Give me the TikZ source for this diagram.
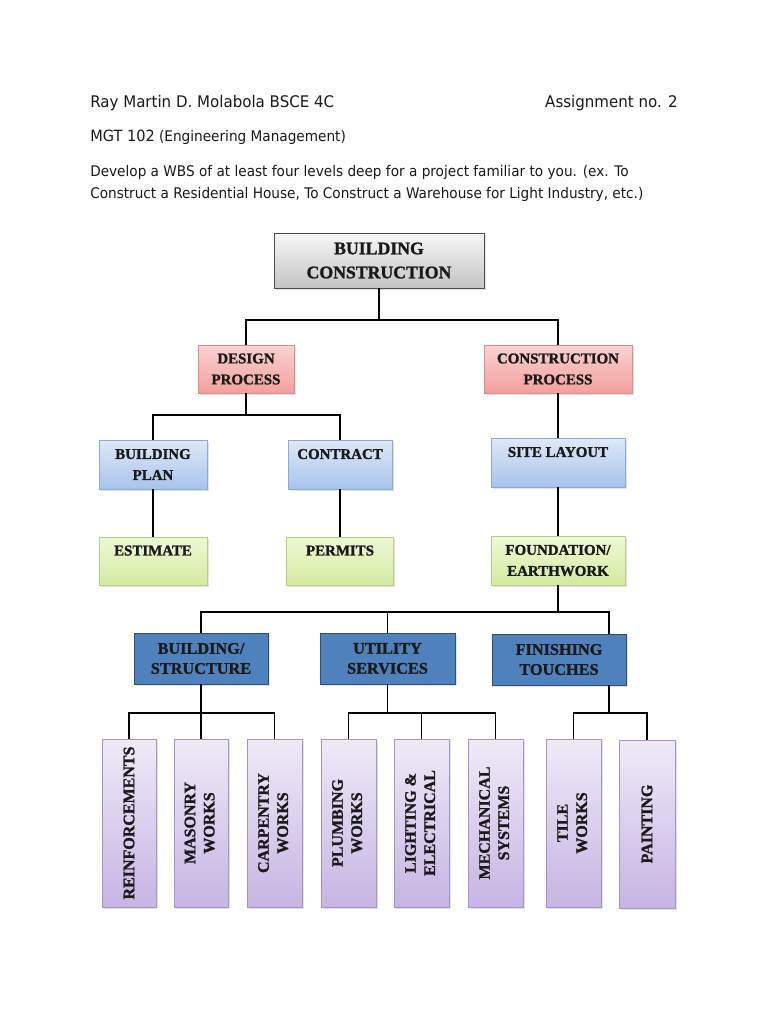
\documentclass[tikz,border=0pt]{standalone}
\usepackage{fontspec}
\usetikzlibrary{shadows}
\newfontfamily\hdrfont{DejaVu Sans}[FakeStretch=0.93]
\newfontfamily\hdrbigfont{DejaVu Sans}[FakeStretch=0.94]
\newfontfamily\tnr{Liberation Serif}[BoldFeatures={FakeBold=1.3}]
\definecolor{grayT}{HTML}{F7F7F7}\definecolor{grayB}{HTML}{C4C4C4}\definecolor{grayD}{HTML}{4D4D4D}
\definecolor{redT}{HTML}{FAD2D1}\definecolor{redB}{HTML}{F2A09E}\definecolor{redD}{HTML}{D98F8D}
\definecolor{bluT}{HTML}{DFE9F7}\definecolor{bluB}{HTML}{A8C3EC}\definecolor{bluD}{HTML}{8AAAD8}
\definecolor{grnT}{HTML}{EFF8D6}\definecolor{grnB}{HTML}{D3EBA0}\definecolor{grnD}{HTML}{B5CF86}
\definecolor{purT}{HTML}{EFEAF8}\definecolor{purB}{HTML}{C7B4E3}\definecolor{purD}{HTML}{A793C7}
\definecolor{dkblu}{HTML}{4F81BD}\definecolor{dkbluD}{HTML}{2F4F7A}
\definecolor{txt}{HTML}{1A1A1A}
\begin{document}
\begin{tikzpicture}[x=0.75pt,y=-0.75pt,
  hdr/.style={inner sep=0pt, text=txt, font=\hdrfont\fontsize{11}{13}\selectfont},
  hdrbig/.style={inner sep=0pt, text=txt, font=\hdrbigfont\fontsize{12}{14}\selectfont},
  box/.style={draw, rectangle, align=center, inner sep=1pt, line width=0.6pt, text=txt,
    drop shadow={opacity=0.22, shadow xshift=1.3pt, shadow yshift=-1.3pt}},
  lvA/.style={box, top color=grayT, bottom color=grayB, draw=grayD,
    font=\tnr\bfseries\fontsize{13.3}{18}\selectfont},
  lvB/.style={box, top color=redT, bottom color=redB, draw=redD,
    font=\tnr\bfseries\fontsize{11.2}{15.75}\selectfont},
  lvC/.style={box, top color=bluT, bottom color=bluB, draw=bluD,
    font=\tnr\bfseries\fontsize{11.2}{15.75}\selectfont},
  lvD/.style={box, top color=grnT, bottom color=grnB, draw=grnD,
    font=\tnr\bfseries\fontsize{11.2}{15.75}\selectfont},
  lvE/.style={box, fill=dkblu, draw=dkbluD,
    font=\tnr\bfseries\fontsize{12.2}{15}\selectfont},
  lvF/.style={box, top color=purT, bottom color=purB, draw=purD,
    minimum height=126pt, font=\tnr\bfseries\fontsize{12}{14.4}\selectfont},
  link/.style={line width=1.4pt, black}
]
\useasboundingbox (0,0) rectangle (768,1024);
\fill[white] (0,0) rectangle (768,1024);

% header
\node[hdrbig, anchor=base west] (name) at (90,108) {Ray Martin D. Molabola BSCE 4C};
\node[hdrbig, anchor=base east] (asg) at (678,108) {Assignment no. 2};
\node[hdr, anchor=base west] (course) at (90,142) {{\hdrbigfont\fontsize{11.6}{13}\selectfont MGT 102} (Engineering Management)};
\node[hdr, anchor=base west] (taskA) at (90,176) {Develop a WBS of at least four levels deep for a project familiar to you. (ex. To};
\node[hdr, anchor=base west] (taskB) at (90,198) {Construct a Residential House, To Construct a Warehouse for Light Industry, etc.)};

% level 1
\node[lvA, minimum width=157.5pt, minimum height=41.25pt] (bc) at (379,260.5) {BUILDING\\CONSTRUCTION};
% level 2
\node[lvB, minimum width=72pt, minimum height=36pt] (dp) at (246,369) {DESIGN\\PROCESS};
\node[lvB, minimum width=111pt, minimum height=36pt] (cp) at (558,369) {CONSTRUCTION\\PROCESS};
% level 3
\node[lvC, minimum width=81pt, minimum height=36.75pt] (bp) at (153,464.5) {BUILDING\\PLAN};
\node[lvC, minimum width=78pt, minimum height=36.75pt] (ct) at (340,464.5) {CONTRACT\\\mbox{}};
\node[lvC, minimum width=100.5pt, minimum height=36.75pt] (sl) at (558,462.5) {SITE LAYOUT\\\mbox{}};
% level 3b
\node[lvD, minimum width=81pt, minimum height=36pt] (es) at (153,561) {ESTIMATE\\\mbox{}};
\node[lvD, minimum width=80.25pt, minimum height=36pt] (pm) at (340,561) {PERMITS\\\mbox{}};
\node[lvD, minimum width=100.5pt, minimum height=36.75pt] (fe) at (558,560.5) {FOUNDATION/\\EARTHWORK};
% level 4
\node[lvE, minimum width=100.5pt, minimum height=38.25pt] (bs) at (201,658.5) {BUILDING/\\STRUCTURE};
\node[lvE, minimum width=101.25pt, minimum height=38.25pt] (us) at (387.5,658.5) {UTILITY\\SERVICES};
\node[lvE, minimum width=100.5pt, minimum height=38.25pt] (ft) at (559,659.5) {FINISHING\\TOUCHES};
% level 5
\node[lvF, minimum width=40.5pt] (rf) at (129,823) {\rotatebox{90}{REINFORCEMENTS}};
\node[lvF, minimum width=40.5pt] (mw) at (201,823) {\rotatebox{90}{\begin{tabular}{@{}c@{}}MASONRY\\WORKS\end{tabular}}};
\node[lvF, minimum width=41.25pt] (cw) at (274.5,823) {\rotatebox{90}{\begin{tabular}{@{}c@{}}CARPENTRY\\WORKS\end{tabular}}};
\node[lvF, minimum width=41.25pt] (pw) at (348.5,823) {\rotatebox{90}{\begin{tabular}{@{}c@{}}PLUMBING\\WORKS\end{tabular}}};
\node[lvF, minimum width=41.25pt] (le) at (421.5,823) {\rotatebox{90}{\begin{tabular}{@{}c@{}}LIGHTING \&\\ELECTRICAL\end{tabular}}};
\node[lvF, minimum width=41.25pt] (ms) at (495.5,823) {\rotatebox{90}{\begin{tabular}{@{}c@{}}MECHANICAL\\SYSTEMS\end{tabular}}};
\node[lvF, minimum width=41.25pt] (tw) at (573.5,823) {\rotatebox{90}{\begin{tabular}{@{}c@{}}TILE\\WORKS\end{tabular}}};
\node[lvF, minimum width=42pt] (pt) at (647,824) {\rotatebox{90}{PAINTING}};

% connectors
\coordinate (busA) at (379,320);
\draw[link] (bc.south) -- (busA);
\draw[link] (dp.north) |- (busA) -| (cp.north);
\coordinate (busB) at (246,415);
\draw[link] (dp.south) -- (busB);
\draw[link] (bp.north) |- (busB) -| (ct.north);
\draw[link] (cp.south) -- (sl.north);
\draw[link] (bp.south) -- (es.north);
\draw[link] (ct.south) -- (pm.north);
\draw[link] (sl.south) -- (fe.north);
\coordinate (busC) at (558,612);
\coordinate (ftin) at ([xshift=-12.75pt]ft.north east);
\coordinate (ftout) at ([xshift=-12.75pt]ft.south east);
\draw[link] (fe.south) -- (busC);
\draw[link] (bs.north) |- (busC) -| (ftin);
\draw[link] (busC) -| (us.north);
\coordinate (busD) at (201,713);
\draw[link] (bs.south) -- (busD);
\draw[link] (rf.north) |- (busD) -| (cw.north);
\draw[link] (busD) -- (mw.north);
\coordinate (busE) at (387.5,713);
\draw[link] (us.south) -- (busE);
\draw[link] (pw.north) |- (busE) -| (ms.north);
\draw[link] (busE) -| (le.north);
\coordinate (busF) at (ftout |- busE);
\draw[link] (ftout) -- (busF);
\draw[link] (tw.north) |- (busF) -| (pt.north);
\end{tikzpicture}
\end{document}
